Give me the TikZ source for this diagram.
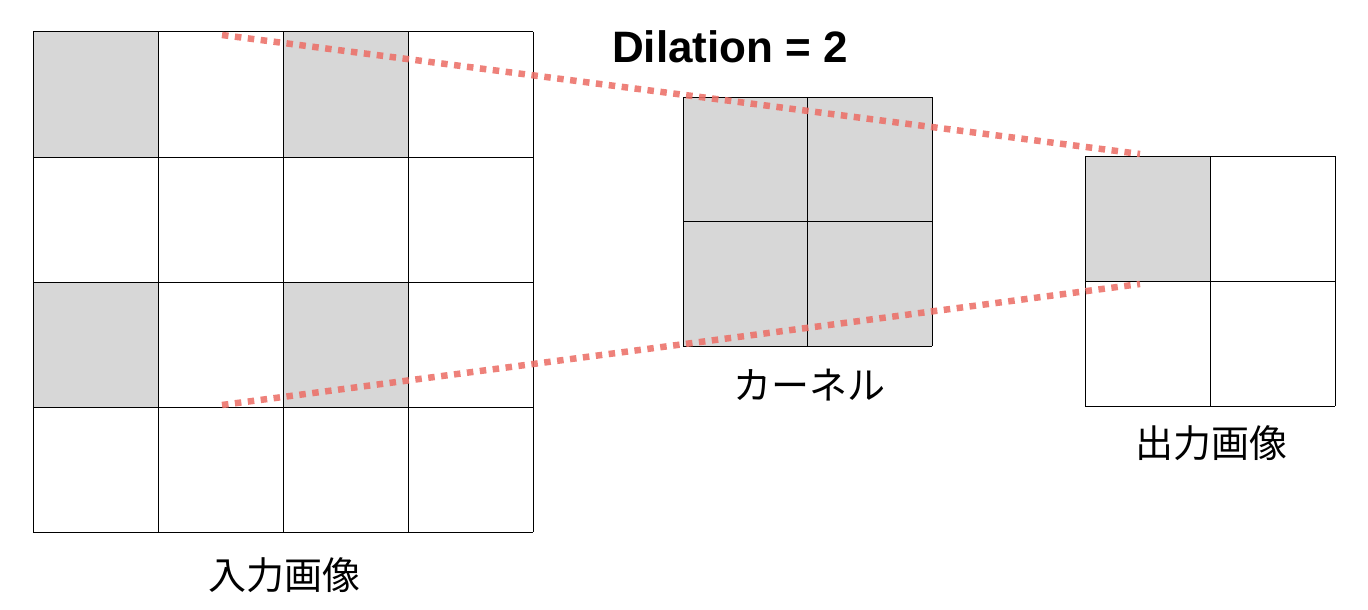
\documentclass[tikz,border=0pt]{standalone}
\usepackage{fontspec}
\setmainfont{Liberation Sans}
\newfontfamily\jpfont{Noto Sans CJK JP}
\definecolor{cellgray}{RGB}{215,215,215}
\definecolor{dotred}{RGB}{236,112,104}
\begin{document}
\begin{tikzpicture}[x=1pt,y=-1pt,
  cellbox/.style={draw=black,line width=1pt},
  graycell/.style={fill=cellgray},
  dotline/.style={draw=dotred,line width=6.5pt,dash pattern=on 6.5pt off 6.5pt,opacity=0.88},
  jplabel/.style={font=\jpfont\fontsize{38}{42}\selectfont,inner sep=0pt},
  titlelabel/.style={font=\bfseries\fontsize{44}{48}\selectfont,inner sep=0pt}]
\useasboundingbox (0,0) rectangle (1368,610);
% input grid
\foreach \i/\j in {0/0,2/0,0/2,2/2}
  \fill[graycell] (33+\i*125,32+\j*125) rectangle ++(125,125);
\foreach \k in {0,...,4} {
  \draw[cellbox] (33+\k*125,32) -- (33+\k*125,532);
  \draw[cellbox] (33,32+\k*125) -- (533,32+\k*125);
}
% kernel
\fill[graycell] (683,97) rectangle (932,346);
\foreach \k in {0,1,2} {
  \draw[cellbox] (683+\k*124.5,97) -- (683+\k*124.5,346);
  \draw[cellbox] (683,97+\k*124.5) -- (932,97+\k*124.5);
}
% output
\fill[graycell] (1085,156) rectangle (1210,281);
\foreach \k in {0,1,2} {
  \draw[cellbox] (1085+\k*125,156) -- (1085+\k*125,406);
  \draw[cellbox] (1085,156+\k*125) -- (1335,156+\k*125);
}
% dotted lines
\coordinate (a1) at (222,35);
\coordinate (b1) at (1140,154);
\coordinate (a2) at (222,405);
\coordinate (b2) at (1140,284);
\draw[dotline] (a1) -- (b1);
\draw[dotline] (a2) -- (b2);
% labels
\node[titlelabel] (title) at (730,47) {Dilation = 2};
\node[jplabel] (kern) at (809,385) {カーネル};
\node[jplabel] (outl) at (1211,443) {出力画像};
\node[jplabel] (inl) at (284,575) {入力画像};
\end{tikzpicture}
\end{document}
